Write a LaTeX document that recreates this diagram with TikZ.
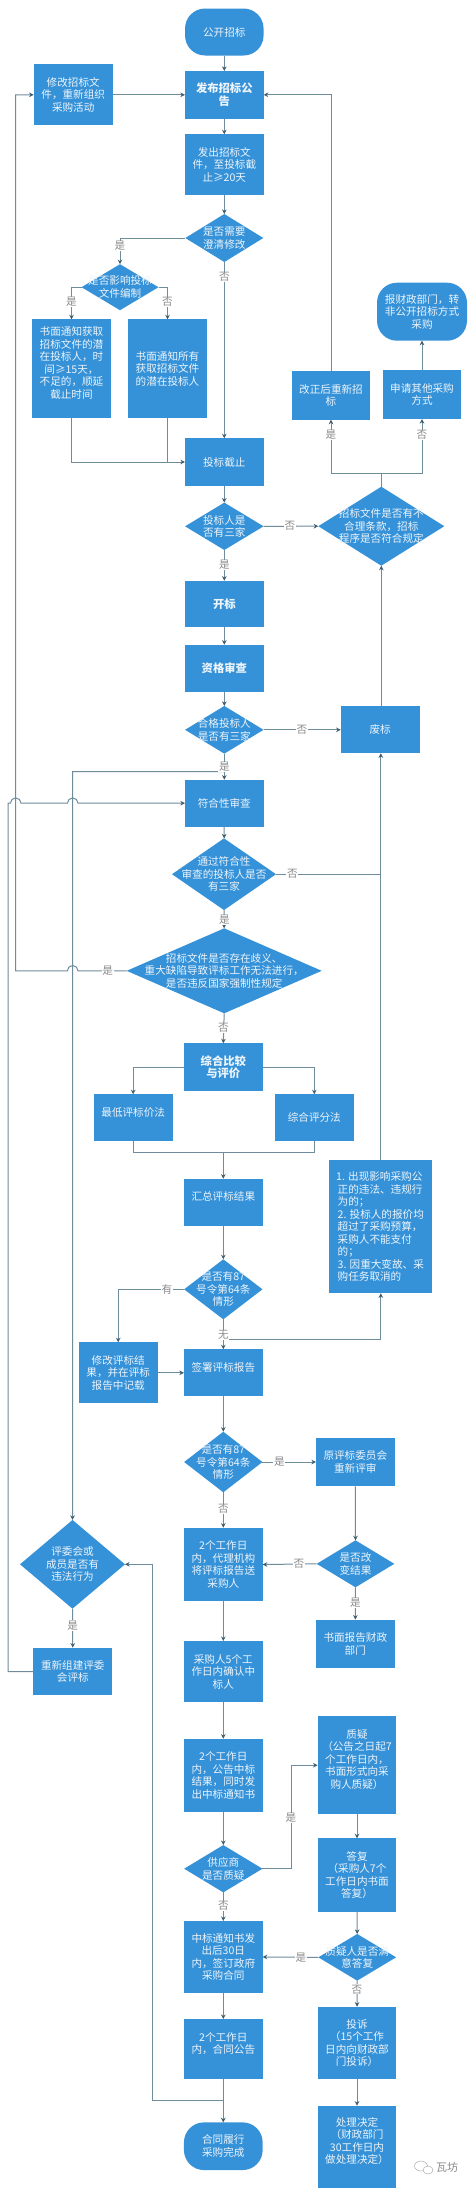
\documentclass[tikz,border=0pt]{standalone}
\usepackage{fontspec}
\setmainfont{Noto Sans CJK SC}
\usetikzlibrary{shapes.geometric,arrows.meta,calc}
\definecolor{boxc}{HTML}{3592D9}
\definecolor{linec}{HTML}{6F8C9C}
\definecolor{headc}{HTML}{3F5F70}
\definecolor{txtc}{HTML}{EDF4FA}
\definecolor{labc}{HTML}{8A8A8A}
\tikzset{
  fnt/.style={font=\fontsize{10.6}{12.5}\selectfont},
  box/.style={rectangle,fill=boxc,draw=none,inner sep=0pt,outer sep=0pt,align=center,text=txtc,fnt},
  bbox/.style={box,font=\fontsize{11.3}{12.5}\selectfont\bfseries},
  term/.style={box,rounded corners=20pt},
  dia/.style={diamond,fill=boxc,draw=none,inner sep=0pt,outer sep=0pt},
  diat/.style={inner sep=0pt,align=center,text=txtc,fnt},
  lab/.style={fill=white,text=labc,inner sep=0.6pt,fnt},
  conn/.style={draw=linec,line width=1pt},
  arr/.style={conn,-{Stealth[length=4.6pt,width=4.6pt,color=headc]}},
}
\newcommand{\bx}[7][box]{\node[#1,minimum width=#5pt,minimum height=#6pt] (#2) at (#3,#4) {#7};}
\newcommand{\dm}[6]{\node[dia,minimum width=#4pt,minimum height=#5pt] (#1) at (#2,#3) {};\node[diat] (#1t) at (#2,#3) {#6};}
\newcommand{\lb}[4]{\node[lab] (#1) at (#2,#3) {#4};}
\begin{document}
\begin{tikzpicture}[x=1pt,y=-1pt]
\useasboundingbox (0,0) rectangle (474,2188);
\fill[white] (0,0) rectangle (474,2188);
% ---- nodes
\bx[term]{start}{224.3}{32}{78.5}{47}{公开招标}
\bx[bbox]{pub}{224.3}{94.8}{78.7}{47.7}{发布招标公\\告}
\bx{mod}{73.2}{94.8}{79}{61}{修改招标文\\件，重新组织\\采购活动}
\bx{issue}{224.3}{164.8}{78.7}{61}{发出招标文\\件，至投标截\\止≥20天}
\dm{d1}{224.3}{238}{78}{48}{是否需要\\澄清修改}
\dm{d2}{120}{287.2}{77}{46}{是否影响投标\\文件编制}
\bx{n1}{71.5}{368.7}{79}{98.7}{书面通知获取\\招标文件的潜\\在投标人，时\\间≥15天，\\不足的，顺延\\截止时间\\~}
\bx{n2}{167.5}{368.7}{79}{98.7}{书面通知所有\\获取招标文件\\的潜在投标人}
\bx{cut}{224.3}{462}{78.7}{47.4}{投标截止}
\dm{d3}{224.3}{526.3}{78.5}{47.4}{投标人是\\否有三家}
\dm{d4}{381.3}{526.2}{126}{79}{招标文件是否有不\\合理条款，招标\\程序是否符合规定}
\bx{fix}{331}{395.3}{78.7}{48.7}{改正后重新招\\标}
\bx{other}{422}{394.5}{78.7}{49}{申请其他采购\\方式}
\bx[term]{rep}{422}{311.7}{90}{58}{报财政部门，转\\非公开招标方式\\采购}
\bx[bbox]{open}{224.3}{604}{78.7}{46.7}{开标}
\bx[bbox]{qual}{224.3}{668.2}{78.7}{47}{资格审查}
\dm{d5}{224.3}{729.8}{78.5}{47.7}{合格投标人\\是否有三家}
\bx{fei}{380.2}{729.8}{79}{47}{废标}
\bx{conf}{224.3}{803.2}{78.7}{47}{符合性审查}
\dm{d6}{224}{874.2}{104}{71.7}{通过符合性\\审查的投标人是否\\有三家}
\dm{d7}{224.2}{970.8}{195}{85}{招标文件是否存在歧义、\\重大缺陷导致评标工作无法进行，\\是否违反国家强制性规定}
\bx[bbox]{cmp}{223.3}{1067.3}{78.7}{48}{综合比较\\与评价}
\bx{low}{133.2}{1117.8}{79}{47}{最低评标价法\\~}
\bx{score}{314.3}{1117.8}{78.7}{47}{综合评分法}
\bx{sumr}{223.3}{1202.2}{78.7}{47}{汇总评标结果\\~}
\dm{d8}{223.3}{1289.3}{78.3}{60}{是否有87\\号令第64条\\情形}
\node[box,minimum width=103pt,minimum height=133.6pt,align=left] (rule) at (380.8,1226.5) {\hspace*{-1.5pt}1. 出现影响采购公\\正的违法、违规行\\为的；\\2. 投标人的报价均\\超过了采购预算，\\采购人不能支付\\的；\\3. 因重大变故、采\\购任务取消的};
\bx{modres}{118.2}{1372.8}{79}{61}{修改评标结\\果，并在评标\\报告中记载}
\bx{sign}{223.3}{1372.8}{78.7}{47}{签署评标报告\\~}
\dm{d9}{223.3}{1462}{78.3}{60.6}{是否有87\\号令第64条\\情形}
\bx{re}{355.3}{1462}{78.7}{48.7}{原评标委员会\\重新评审}
\dm{d10}{355.5}{1563.8}{77.6}{47}{是否改\\变结果}
\bx{two}{223.3}{1564.5}{78.7}{73.6}{2个工作日\\内，代理机构\\将评标报告送\\采购人}
\bx{rpt}{355.3}{1643.8}{78.7}{48.3}{书面报告财政\\部门}
\dm{d11}{72.5}{1564.3}{105}{88.7}{评委会或\\成员是否有\\违法行为}
\bx{recon}{72.8}{1671.5}{79}{47.7}{重新组建评委\\会评标}
\bx{buyer}{223.3}{1671.7}{78.7}{61.3}{采购人5个工\\作日内确认中\\标人}
\bx{pubw}{223.3}{1775.5}{78.7}{73.6}{2个工作日\\内，公告中标\\结果，同时发\\出中标通知书}
\bx{qy}{357}{1765.2}{78.7}{98.3}{质疑\\（公告之日起7\\个工作日内，\\书面形式向采\\购人质疑）\\~}
\bx{ans}{357}{1875}{78.7}{73.4}{答复\\（采购人7个\\工作日内书面\\答复）}
\dm{d12}{223.3}{1868.7}{78.3}{47.3}{供应商\\是否质疑}
\bx{sgn}{223.3}{1957}{78.7}{72}{中标通知书发\\出后30日\\内，签订政府\\采购合同}
\dm{d13}{357.2}{1957.3}{77.7}{46.7}{质疑人是否满\\意答复}
\bx{cpub}{223.3}{2049.2}{78.7}{60.3}{2个工作日\\内，合同公告\\~}
\bx{tou}{357}{2043}{78.7}{72.6}{投诉\\（15个工作\\日内向财政部\\门投诉）}
\bx{dec}{357}{2146.85}{78.7}{82.3}{处理决定\\（财政部门\\30工作日内\\做处理决定）\\~}
\bx[term]{fin}{223.3}{2146.2}{78.7}{47.7}{合同履行\\采购完成}
% ---- connectors
\draw[arr] (start) -- (pub);
\draw[arr] (pub) -- (issue);
\draw[arr] (issue) -- (d1);
\draw[arr] (mod) -- (pub);
\draw[arr] (d1) -- (cut);
\draw[arr] (d1.west) -| (d2.north);
\draw[arr] (d2.west) -| (n1.north);
\draw[arr] (d2.east) -| (n2.north);
\draw[arr] (n1.south) |- (cut.west);
\draw[conn] (n2.south) -- (n2.south |- cut.west);
\draw[arr] (cut) -- (d3);
\draw[arr] (d3.east) -- (d4.west);
\draw[arr] (d3) -- (open);
\draw[arr] (open) -- (qual);
\draw[arr] (qual) -- (d5);
\draw[arr] (d5.east) -- (fei.west);
\draw[arr] (d5) -- (conf);
\draw[arr] (conf) -- (d6);
\draw[arr] (d6) -- (d7);
\draw[arr] (d7.south) -- (cmp.north);
\draw[arr] (fei.north -| d4.south) -- (d4.south);
\coordinate (fork) at (381.3,473.7);
\draw[conn] (d4.north) -- (fork);
\draw[arr] (fork) -| (fix.south);
\draw[arr] (fork) -| (other.south);
\draw[arr] (fix.north) |- (pub.east);
\draw[arr] (other) -- (rep);
\draw[arr] (rule.north) -- (rule.north |- fei.south);
\draw[conn] (d6.east) -- (d6.east -| rule.north);
\coordinate (branchA) at (224.3,771.7);
\draw[arr] (branchA) -- (72.7,771.7) -- (d11.north);
\draw[arr] (d7.west) -- (78,970.8) arc[start angle=0,end angle=180,radius=5.3pt] -- (15.7,970.8) -- (15.7,94.8) -- (mod.west);
\draw[arr] (recon.west) -- (8,1671.7) -- (8,803.2) -- (10.4,803.2) arc[start angle=180,end angle=0,radius=5.3pt] -- (67.4,803.2) arc[start angle=180,end angle=0,radius=5.3pt] -- (conf.west);
\draw[arr] (cmp.west) -| (low.north);
\draw[arr] (cmp.east) -| (score.north);
\coordinate (merge) at (223.3,1152);
\draw[conn] (low.south) |- (merge);
\draw[conn] (score.south) |- (merge);
\draw[arr] (merge) -- (sumr.north);
\draw[arr] (sumr) -- (d8);
\draw[arr] (d8.west) -| (modres.north);
\draw[arr] (d8) -- (sign);
\coordinate (branchB) at (223.3,1339.7);
\draw[arr] (branchB) -| (rule.south);
\draw[arr] (modres) -- (sign);
\draw[arr] (sign) -- (d9);
\draw[arr] (d9.east) -- (re.west);
\draw[arr] (d9) -- (two);
\draw[arr] (re) -- (d10);
\draw[arr] (d10.west) -- (two.east);
\draw[arr] (d10) -- (rpt);
\draw[arr] (two) -- (buyer);
\draw[arr] (buyer) -- (pubw);
\draw[arr] (pubw) -- (d12);
\draw[arr] (d12.east) -- (291,1868.7) -- (291,1765.2) -- (qy.west);
\draw[arr] (d12) -- (sgn);
\draw[arr] (qy) -- (ans);
\draw[arr] (ans) -- (d13);
\draw[arr] (d13.west) -- (sgn.east);
\draw[arr] (d13) -- (tou);
\draw[arr] (tou) -- (dec);
\draw[arr] (sgn) -- (cpub);
\draw[arr] (cpub) -- (fin);
\coordinate (branchC) at (223.3,2100);
\draw[arr] (branchC) -- (152.7,2100) -- (152.7,1564.3) -- (d11.east);
\draw[arr] (d11) -- (recon);
% ---- labels
\lb{la}{224.3}{277}{否}
\lb{lb}{120}{246}{是}
\lb{lc}{71.5}{302}{是}
\lb{ld}{167.5}{302}{否}
\lb{le}{290}{526}{否}
\lb{lf}{224.3}{565}{是}
\lb{lg}{302}{729.8}{否}
\lb{lh}{224.3}{767}{是}
\lb{li}{292.3}{874}{否}
\lb{lj}{224.3}{920}{是}
\lb{lk}{107.7}{970.8}{是}
\lb{ll}{223.5}{1028}{否}
\lb{lm}{331}{435}{是}
\lb{ln}{422}{435}{否}
\lb{lo}{167}{1289.3}{有}
\lb{lp}{223.3}{1335}{无}
\lb{lq}{279.3}{1462}{是}
\lb{lr}{223.3}{1509}{否}
\lb{ls}{299}{1563.8}{否}
\lb{lt}{355.3}{1603}{是}
\lb{lu}{72.7}{1625.7}{是}
\lb{lv}{291}{1818}{是}
\lb{lw}{223.3}{1906}{否}
\lb{lx}{301}{1957.3}{是}
\lb{ly}{357}{1989.3}{否}
% ---- watermark
\draw[labc!70,line width=0.5pt,fill=white] (421,2166) ellipse[x radius=6.5pt,y radius=5pt];
\draw[labc!70,line width=0.5pt,fill=white] (428,2170) ellipse[x radius=5pt,y radius=4pt];
\node[text=labc,inner sep=0pt,font=\fontsize{11}{12}\selectfont] (wm) at (447,2167) {瓦坊};
\end{tikzpicture}
\end{document}
